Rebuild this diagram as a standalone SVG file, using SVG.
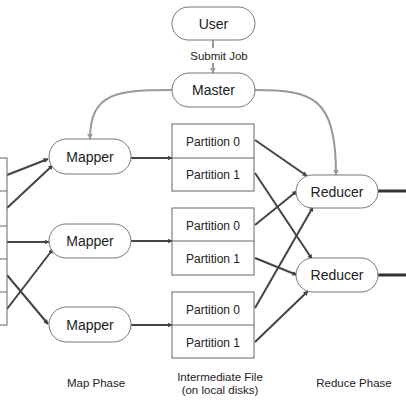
<svg xmlns="http://www.w3.org/2000/svg" width="406" height="406" viewBox="0 0 406 406">
<defs>
<marker id="ad" viewBox="0 0 10 10" refX="9" refY="5" markerWidth="5" markerHeight="5" orient="auto" markerUnits="userSpaceOnUse"><path d="M0,0 L10,5 L0,10 z" fill="#444"/></marker>
<marker id="ag" viewBox="0 0 10 10" refX="9" refY="5" markerWidth="6" markerHeight="6" orient="auto" markerUnits="userSpaceOnUse"><path d="M0,0 L10,5 L0,10 z" fill="#999"/></marker>
</defs>
<style>
text{font-family:"Liberation Sans",Arial,sans-serif;fill:#222;text-anchor:middle}
.pill{fill:#fff;stroke:#777;stroke-width:1}
.box{fill:#fff;stroke:#666;stroke-width:1}
.d{stroke:#444;stroke-width:2;fill:none;marker-end:url(#ad)}
.g{stroke:#999;stroke-width:2;fill:none;marker-end:url(#ag)}
.n{font-size:14px}
.p{font-size:12px}
.l{font-size:11.5px}
</style>
<rect width="406" height="406" fill="#fff"/>
<g id="connectors">
<line x1="213" y1="40" x2="213" y2="48" stroke="#999" stroke-width="2"/>
<line class="g" x1="213" y1="63" x2="213" y2="73"/>
<path class="g" d="M172,90 C118,90 90,92 90,139"/>
<path class="g" d="M255,90 C312,90 336,96 336,175"/>
<line class="d" x1="7" y1="175" x2="48" y2="159"/>
<line class="d" x1="7" y1="208" x2="53" y2="165"/>
<line class="d" x1="7" y1="242" x2="49" y2="242"/>
<line class="d" x1="7" y1="275" x2="48" y2="324"/>
<line class="d" x1="7" y1="309" x2="53" y2="249"/>
<line class="d" x1="131" y1="158" x2="172" y2="158"/>
<line class="d" x1="131" y1="241" x2="172" y2="241"/>
<line class="d" x1="131" y1="325" x2="172" y2="325"/>
<line class="d" x1="255" y1="140" x2="307" y2="176"/>
<line class="d" x1="255" y1="173" x2="312" y2="259"/>
<line class="d" x1="255" y1="225" x2="297" y2="191"/>
<line class="d" x1="255" y1="258" x2="297" y2="275"/>
<line class="d" x1="255" y1="308" x2="313" y2="207"/>
<line class="d" x1="255" y1="342" x2="308" y2="291"/>
<line x1="378" y1="191" x2="406" y2="191" stroke="#333" stroke-width="3"/>
<line x1="378" y1="275" x2="406" y2="275" stroke="#333" stroke-width="3"/>
</g>
<g id="inputs">
<rect class="box" x="-2" y="158" width="9" height="167"/>
<line x1="0" y1="191" x2="7" y2="191" stroke="#666"/>
<line x1="0" y1="226" x2="7" y2="226" stroke="#666"/>
<line x1="0" y1="259" x2="7" y2="259" stroke="#666"/>
<line x1="0" y1="292" x2="7" y2="292" stroke="#666"/>
</g>
<g id="user"><rect class="pill" x="172" y="7" width="83" height="33" rx="16.5"/><text class="n" x="213.5" y="29">User</text></g>
<text class="l" x="219" y="60">Submit Job</text>
<g id="master"><rect class="pill" x="172" y="73" width="83" height="34" rx="17"/><text class="n" x="213.5" y="95">Master</text></g>
<g id="mapper1"><rect class="pill" x="49" y="139" width="82" height="35" rx="17.5"/><text class="n" x="90" y="161.5">Mapper</text></g>
<g id="mapper2"><rect class="pill" x="49" y="224" width="82" height="34" rx="17"/><text class="n" x="90" y="246">Mapper</text></g>
<g id="mapper3"><rect class="pill" x="49" y="307" width="82" height="35" rx="17.5"/><text class="n" x="90" y="329.5">Mapper</text></g>
<g id="file1"><rect class="box" x="172" y="124" width="82" height="67"/><line x1="172" y1="158" x2="254" y2="158" stroke="#666"/><text class="p" x="213" y="145.5">Partition 0</text><text class="p" x="213" y="179">Partition 1</text></g>
<g id="file2"><rect class="box" x="172" y="208" width="82" height="67"/><line x1="172" y1="241" x2="254" y2="241" stroke="#666"/><text class="p" x="213" y="229.5">Partition 0</text><text class="p" x="213" y="263">Partition 1</text></g>
<g id="file3"><rect class="box" x="172" y="292" width="82" height="66"/><line x1="172" y1="325" x2="254" y2="325" stroke="#666"/><text class="p" x="213" y="313.5">Partition 0</text><text class="p" x="213" y="346.5">Partition 1</text></g>
<g id="reducer1"><rect class="pill" x="296" y="175" width="82" height="33" rx="16.5"/><text class="n" x="337" y="196.5">Reducer</text></g>
<g id="reducer2"><rect class="pill" x="296" y="258" width="82" height="34" rx="17"/><text class="n" x="337" y="280">Reducer</text></g>
<g id="labels">
<text class="l" x="96" y="387">Map Phase</text>
<text class="l" x="220" y="381">Intermediate File</text>
<text class="l" x="220" y="394">(on local disks)</text>
<text class="l" x="354" y="387">Reduce Phase</text>
</g>
</svg>
